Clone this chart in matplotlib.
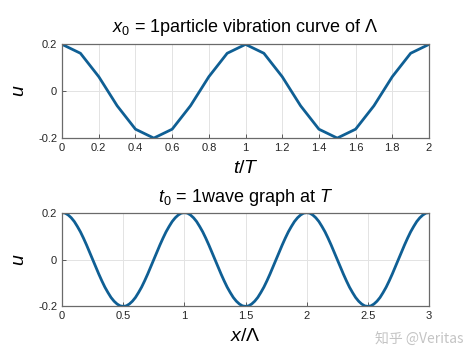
import matplotlib
matplotlib.use("Agg")
import matplotlib.pyplot as plt

plt.rcParams['font.family'] = ['Liberation Sans', 'Noto Sans CJK SC', 'DejaVu Sans']
plt.rcParams['mathtext.fontset'] = 'custom'
plt.rcParams['mathtext.rm'] = 'Liberation Sans'
plt.rcParams['mathtext.it'] = 'Liberation Sans:italic'

# particle vibration curve, sampled every 0.1 T
t_T = [0.0, 0.1, 0.2, 0.3, 0.4, 0.5, 0.6, 0.7, 0.8, 0.9, 1.0,
       1.1, 1.2, 1.3, 1.4, 1.5, 1.6, 1.7, 1.8, 1.9, 2.0]
u_t = [0.2, 0.162, 0.062, -0.062, -0.162, -0.2, -0.162, -0.062, 0.062, 0.162, 0.2,
       0.162, 0.062, -0.062, -0.162, -0.2, -0.162, -0.062, 0.062, 0.162, 0.2]

# wave graph, read every 0.025 wavelength
x_L = [i * 0.025 for i in range(121)]
u_period = [0.2, 0.198, 0.190, 0.178, 0.162, 0.141, 0.118, 0.091, 0.062, 0.031,
            0.0, -0.031, -0.062, -0.091, -0.118, -0.141, -0.162, -0.178, -0.190, -0.198,
            -0.2, -0.198, -0.190, -0.178, -0.162, -0.141, -0.118, -0.091, -0.062, -0.031,
            0.0, 0.031, 0.062, 0.091, 0.118, 0.141, 0.162, 0.178, 0.190, 0.198]
u_x = u_period * 3 + [0.2]

top_xticks = [0, 0.2, 0.4, 0.6, 0.8, 1, 1.2, 1.4, 1.6, 1.8, 2]
top_xlabels = ['0', '0.2', '0.4', '0.6', '0.8', '1', '1.2', '1.4', '1.6', '1.8', '2']
bot_xticks = [0, 0.5, 1, 1.5, 2, 2.5, 3]
bot_xlabels = ['0', '0.5', '1', '1.5', '2', '2.5', '3']
yticks = [-0.2, 0, 0.2]
ylabels = ['-0.2', '0', '0.2']

line_color = '#0f5f94'

fig = plt.figure(figsize=(4.74, 3.55), dpi=100)
ax1 = fig.add_axes([0.131, 0.611, 0.774, 0.264])
ax2 = fig.add_axes([0.131, 0.137, 0.774, 0.264])


def style(ax, xt, xl, xmax):
    ax.set_xlim(0, xmax)
    ax.set_ylim(-0.2, 0.2)
    ax.set_xticks(xt)
    ax.set_xticklabels(xl)
    ax.set_yticks(yticks)
    ax.set_yticklabels(ylabels)
    ax.grid(True, color='#e3e3e3', linewidth=0.7)
    ax.set_axisbelow(True)
    ax.tick_params(direction='in', length=3, width=0.6, labelsize=8,
                   colors='#444444', labelcolor='#262626', pad=3.5)
    for s in ax.spines.values():
        s.set_color('#6a6a6a')
        s.set_linewidth(0.9)


ax1.plot(t_T, u_t, color=line_color, linewidth=2)
style(ax1, top_xticks, top_xlabels, 2)
ax1.set_title(r'$x_0$ = 1particle vibration curve of $\mathit{\Lambda}$',
              fontsize=13, pad=9)
ax1.set_xlabel(r'$t/T$', fontsize=14, labelpad=5)
ax1.set_ylabel(r'$u$', fontsize=14, labelpad=7)

ax2.plot(x_L, u_x, color=line_color, linewidth=2)
style(ax2, bot_xticks, bot_xlabels, 3)
ax2.set_title(r'$t_0$ = 1wave graph at $T$', fontsize=13, pad=8)
ax2.set_xlabel(r'$x/\mathit{\Lambda}$', fontsize=14, labelpad=5)
ax2.set_ylabel(r'$u$', fontsize=14, labelpad=7)

fig.text(0.978, 0.042, '知乎 @Veritas', ha='right', va='center',
         fontsize=10, color='#c4c4c4',
         family=['Noto Sans CJK SC', 'DejaVu Sans'])

fig.savefig('out.png', dpi=100)
